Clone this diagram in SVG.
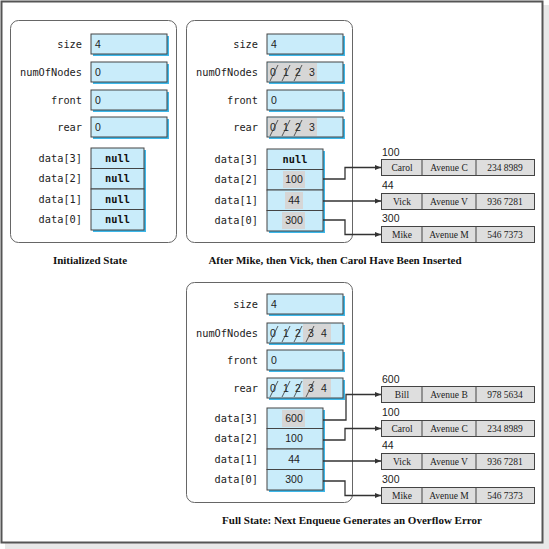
<svg xmlns="http://www.w3.org/2000/svg" width="549" height="549" viewBox="0 0 549 549">
<defs>
<style>
.panel{fill:#fff;stroke:#666;stroke-width:1}
.sh{fill:#3db8ea}
.box{fill:#c9ecfa;stroke:#444;stroke-width:1}
.hl{fill:#d6d6d6}
.lbl{font-family:"DejaVu Sans Mono",monospace;font-size:10.3px;fill:#222;text-anchor:end}
.val{font-family:"Liberation Sans",Arial,sans-serif;font-size:10.5px;fill:#222}
.cv{font-family:"Liberation Sans",Arial,sans-serif;font-size:10.5px;fill:#222;text-anchor:middle}
.nul{font-family:"DejaVu Sans Mono",monospace;font-size:10.3px;font-weight:bold;fill:#111;text-anchor:middle}
.rec{fill:#dedede;stroke:#444;stroke-width:1}
.rt{font-family:"Liberation Serif","Times New Roman",serif;font-size:9.5px;fill:#222;text-anchor:middle}
.addr{font-family:"Liberation Sans",Arial,sans-serif;font-size:10.5px;fill:#222}
.title{font-family:"Liberation Serif","Times New Roman",serif;font-size:11px;font-weight:bold;fill:#111;text-anchor:middle}
.sl{stroke:#333;stroke-width:0.8}
.conn{fill:none;stroke:#333;stroke-width:1.3;marker-end:url(#arr)}
</style>
<marker id="arr" viewBox="0 0 10 10" refX="10" refY="5" markerWidth="7" markerHeight="6" markerUnits="userSpaceOnUse" orient="auto">
<path d="M0,1 L10,5 L0,9 z" fill="#333"/>
</marker>
</defs>
<rect x="5" y="5" width="544" height="544" fill="#e8e8e8"/>
<rect x="1.5" y="1.5" width="541" height="541" fill="#fff" stroke="#555" stroke-width="2"/>

<!-- Panel 1 -->
<g id="panel1">
<rect class="panel" x="10.5" y="20.5" width="166" height="222" rx="8"/>
<text class="lbl" x="82" y="48">size</text>
<rect class="sh" x="93" y="36" width="76" height="20"/><rect class="box" x="91" y="34" width="76" height="20"/>
<text class="val" x="95" y="48">4</text>
<text class="lbl" x="82" y="76">numOfNodes</text>
<rect class="sh" x="93" y="64" width="76" height="20"/><rect class="box" x="91" y="62" width="76" height="20"/>
<text class="val" x="95" y="76">0</text>
<text class="lbl" x="82" y="104">front</text>
<rect class="sh" x="93" y="92" width="76" height="20"/><rect class="box" x="91" y="90" width="76" height="20"/>
<text class="val" x="95" y="104">0</text>
<text class="lbl" x="82" y="131">rear</text>
<rect class="sh" x="93" y="119" width="76" height="20"/><rect class="box" x="91" y="117" width="76" height="20"/>
<text class="val" x="95" y="131">0</text>
<rect class="sh" x="93" y="150" width="53" height="82"/>
<rect class="box" x="91" y="148" width="53" height="20.5"/>
<rect class="box" x="91" y="168.5" width="53" height="20.5"/>
<rect class="box" x="91" y="189" width="53" height="20.5"/>
<rect class="box" x="91" y="209.5" width="53" height="20.5"/>
<text class="lbl" x="82" y="162">data[3]</text>
<text class="lbl" x="82" y="182">data[2]</text>
<text class="lbl" x="82" y="203">data[1]</text>
<text class="lbl" x="82" y="223">data[0]</text>
<text class="nul" x="117.5" y="162">null</text>
<text class="nul" x="117.5" y="182">null</text>
<text class="nul" x="117.5" y="203">null</text>
<text class="nul" x="117.5" y="223">null</text>
</g>
<text class="title" x="90" y="264">Initialized State</text>

<!-- Panel 2 -->
<g id="panel2">
<rect class="panel" x="186.5" y="20.5" width="166" height="222" rx="8"/>
<text class="lbl" x="258" y="48">size</text>
<rect class="sh" x="269" y="36" width="76" height="20"/><rect class="box" x="267" y="34" width="76" height="20"/>
<text class="val" x="271" y="48">4</text>
<text class="lbl" x="258" y="76">numOfNodes</text>
<rect class="sh" x="269" y="64" width="76" height="20"/><rect class="box" x="267" y="62" width="76" height="20"/>
<rect class="hl" x="268" y="63" width="49" height="18"/>
<text class="val" x="270" y="76">0</text><text class="val" x="283" y="76">1</text><text class="val" x="295" y="76">2</text><text class="val" x="309" y="76">3</text>
<line class="sl" x1="270" y1="81" x2="278" y2="65"/><line class="sl" x1="282" y1="81" x2="290" y2="65"/><line class="sl" x1="294" y1="81" x2="302" y2="65"/>
<text class="lbl" x="258" y="104">front</text>
<rect class="sh" x="269" y="92" width="76" height="20"/><rect class="box" x="267" y="90" width="76" height="20"/>
<text class="val" x="271" y="104">0</text>
<text class="lbl" x="258" y="131">rear</text>
<rect class="sh" x="269" y="119" width="76" height="20"/><rect class="box" x="267" y="117" width="76" height="20"/>
<rect class="hl" x="268" y="118" width="49" height="18"/>
<text class="val" x="270" y="131">0</text><text class="val" x="283" y="131">1</text><text class="val" x="295" y="131">2</text><text class="val" x="309" y="131">3</text>
<line class="sl" x1="270" y1="136" x2="278" y2="120"/><line class="sl" x1="282" y1="136" x2="290" y2="120"/><line class="sl" x1="294" y1="136" x2="302" y2="120"/>
<rect class="sh" x="269" y="151" width="56" height="82"/>
<rect class="box" x="267" y="149" width="56" height="20.5"/>
<rect class="box" x="267" y="169.5" width="56" height="20.5"/>
<rect class="box" x="267" y="190" width="56" height="20.5"/>
<rect class="box" x="267" y="210.5" width="56" height="20.5"/>
<rect class="hl" x="283" y="171" width="22" height="17"/>
<rect class="hl" x="285" y="192" width="18" height="17"/>
<rect class="hl" x="282" y="212" width="23" height="17"/>
<text class="lbl" x="258" y="163">data[3]</text>
<text class="lbl" x="258" y="183">data[2]</text>
<text class="lbl" x="258" y="204">data[1]</text>
<text class="lbl" x="258" y="224">data[0]</text>
<text class="nul" x="295" y="163">null</text>
<text class="cv" x="294" y="183">100</text>
<text class="cv" x="294" y="204">44</text>
<text class="cv" x="294" y="224">300</text>
</g>
<text class="title" x="335" y="264">After Mike, then Vick, then Carol Have Been Inserted</text>

<g id="records2">
<text class="addr" x="382" y="156">100</text>
<rect class="rec" x="381.5" y="159.5" width="153" height="16"/>
<line x1="422" y1="159.5" x2="422" y2="175.5" stroke="#444"/><line x1="476" y1="159.5" x2="476" y2="175.5" stroke="#444"/>
<text class="rt" x="402" y="171">Carol</text><text class="rt" x="449" y="171">Avenue C</text><text class="rt" x="505" y="171">234 8989</text>
<text class="addr" x="382" y="189">44</text>
<rect class="rec" x="381.5" y="193.5" width="153" height="16"/>
<line x1="422" y1="193.5" x2="422" y2="209.5" stroke="#444"/><line x1="476" y1="193.5" x2="476" y2="209.5" stroke="#444"/>
<text class="rt" x="402" y="205">Vick</text><text class="rt" x="449" y="205">Avenue V</text><text class="rt" x="505" y="205">936 7281</text>
<text class="addr" x="382" y="222">300</text>
<rect class="rec" x="381.5" y="226.5" width="153" height="16"/>
<line x1="422" y1="226.5" x2="422" y2="242.5" stroke="#444"/><line x1="476" y1="226.5" x2="476" y2="242.5" stroke="#444"/>
<text class="rt" x="402" y="238">Mike</text><text class="rt" x="449" y="238">Avenue M</text><text class="rt" x="505" y="238">546 7373</text>
</g>

<!-- Panel 3 -->
<g id="panel3">
<rect class="panel" x="186.5" y="282.5" width="166" height="220" rx="8"/>
<text class="lbl" x="258" y="308">size</text>
<rect class="sh" x="269" y="296" width="76" height="20"/><rect class="box" x="267" y="294" width="76" height="20"/>
<text class="val" x="271" y="308">4</text>
<text class="lbl" x="258" y="337">numOfNodes</text>
<rect class="sh" x="269" y="325" width="76" height="20"/><rect class="box" x="267" y="323" width="76" height="20"/>
<rect class="hl" x="303" y="324" width="28" height="18"/>
<text class="val" x="270" y="337">0</text><text class="val" x="283" y="337">1</text><text class="val" x="295" y="337">2</text><text class="val" x="308" y="337">3</text><text class="val" x="321" y="337">4</text>
<line class="sl" x1="270" y1="342" x2="278" y2="326"/><line class="sl" x1="282" y1="342" x2="290" y2="326"/><line class="sl" x1="294" y1="342" x2="302" y2="326"/><line class="sl" x1="306" y1="342" x2="314" y2="326"/>
<text class="lbl" x="258" y="364">front</text>
<rect class="sh" x="269" y="352" width="76" height="20"/><rect class="box" x="267" y="350" width="76" height="20"/>
<text class="val" x="271" y="364">0</text>
<text class="lbl" x="258" y="392">rear</text>
<rect class="sh" x="269" y="380" width="76" height="20"/><rect class="box" x="267" y="378" width="76" height="20"/>
<rect class="hl" x="303" y="379" width="28" height="18"/>
<text class="val" x="270" y="392">0</text><text class="val" x="283" y="392">1</text><text class="val" x="295" y="392">2</text><text class="val" x="308" y="392">3</text><text class="val" x="321" y="392">4</text>
<line class="sl" x1="270" y1="397" x2="278" y2="381"/><line class="sl" x1="282" y1="397" x2="290" y2="381"/><line class="sl" x1="294" y1="397" x2="302" y2="381"/><line class="sl" x1="306" y1="397" x2="314" y2="381"/>
<rect class="sh" x="269" y="410" width="56" height="82"/>
<rect class="box" x="267" y="408" width="56" height="20.5"/>
<rect class="box" x="267" y="428.5" width="56" height="20.5"/>
<rect class="box" x="267" y="449" width="56" height="20.5"/>
<rect class="box" x="267" y="469.5" width="56" height="20.5"/>
<rect class="hl" x="282" y="410" width="23" height="17"/>
<text class="lbl" x="258" y="422">data[3]</text>
<text class="lbl" x="258" y="442">data[2]</text>
<text class="lbl" x="258" y="463">data[1]</text>
<text class="lbl" x="258" y="483">data[0]</text>
<text class="cv" x="294" y="422">600</text>
<text class="cv" x="294" y="442">100</text>
<text class="cv" x="294" y="463">44</text>
<text class="cv" x="294" y="483">300</text>
</g>
<text class="title" x="352" y="524">Full State: Next Enqueue Generates an Overflow Error</text>

<g id="records3">
<text class="addr" x="382" y="383">600</text>
<rect class="rec" x="381.5" y="386.5" width="153" height="16"/>
<line x1="422" y1="386.5" x2="422" y2="402.5" stroke="#444"/><line x1="476" y1="386.5" x2="476" y2="402.5" stroke="#444"/>
<text class="rt" x="402" y="398">Bill</text><text class="rt" x="449" y="398">Avenue B</text><text class="rt" x="505" y="398">978 5634</text>
<text class="addr" x="382" y="416">100</text>
<rect class="rec" x="381.5" y="420.5" width="153" height="16"/>
<line x1="422" y1="420.5" x2="422" y2="436.5" stroke="#444"/><line x1="476" y1="420.5" x2="476" y2="436.5" stroke="#444"/>
<text class="rt" x="402" y="432">Carol</text><text class="rt" x="449" y="432">Avenue C</text><text class="rt" x="505" y="432">234 8989</text>
<text class="addr" x="382" y="449">44</text>
<rect class="rec" x="381.5" y="453.5" width="153" height="16"/>
<line x1="422" y1="453.5" x2="422" y2="469.5" stroke="#444"/><line x1="476" y1="453.5" x2="476" y2="469.5" stroke="#444"/>
<text class="rt" x="402" y="465">Vick</text><text class="rt" x="449" y="465">Avenue V</text><text class="rt" x="505" y="465">936 7281</text>
<text class="addr" x="382" y="483">300</text>
<rect class="rec" x="381.5" y="487.5" width="153" height="16"/>
<line x1="422" y1="487.5" x2="422" y2="503.5" stroke="#444"/><line x1="476" y1="487.5" x2="476" y2="503.5" stroke="#444"/>
<text class="rt" x="402" y="499">Mike</text><text class="rt" x="449" y="499">Avenue M</text><text class="rt" x="505" y="499">546 7373</text>
</g>

<g id="connectors">
<polyline class="conn" points="323,179 345,179 345,167.5 381,167.5"/>
<polyline class="conn" points="323,201 381,201"/>
<polyline class="conn" points="323,220 345,220 345,234.5 381,234.5"/>
<polyline class="conn" points="323,420 346,420 346,394.5 381,394.5"/>
<polyline class="conn" points="323,440 345,440 345,428.5 381,428.5"/>
<polyline class="conn" points="323,461 381,461"/>
<polyline class="conn" points="323,481 345,481 345,495.5 381,495.5"/>
</g>
</svg>
